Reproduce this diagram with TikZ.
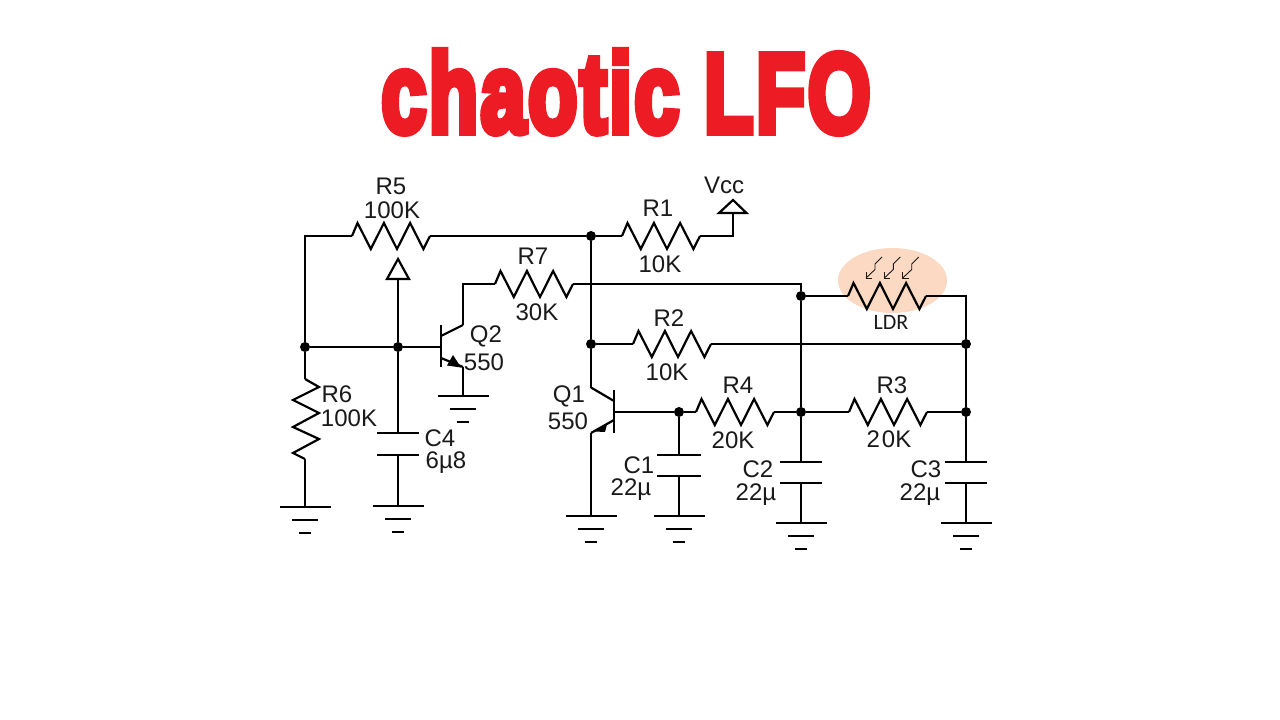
\documentclass[tikz,border=0pt]{standalone}
\usepackage{fontspec}
\setmainfont{Liberation Sans}
\newfontfamily\titlefont{Liberation Sans}[UprightFont=* Bold,FakeBold=7,LetterSpace=3.2]
\newfontfamily\ldrfont{Carlito}
\definecolor{titlered}{HTML}{ED1C24}
\definecolor{peach}{HTML}{FBD9C2}
\definecolor{ink}{HTML}{1A1A1A}
\tikzset{
  wire/.style={line width=2.2pt,line join=miter,line cap=butt,black},
  plate/.style={line width=2.2pt,black},
  junction/.style={circle,fill=black,inner sep=0pt,minimum size=10pt},
  lab/.style={font=\fontsize{24}{26}\selectfont,text=ink,inner sep=0pt},
  ldrlab/.style={font=\ldrfont\fontsize{22}{24}\selectfont,text=ink,inner sep=0pt},
  lightray/.style={line width=0.9pt,ink},
}
% horizontal resistor with named ends #1-a and #1-b
\newcommand{\hresistor}[3]{%
  \coordinate (#1-a) at (#2,#3);
  \coordinate (#1-b) at (#2+78,#3);
  \draw[wire] (#1-a) -- ++(5.5,-13) -- ++(13.3,26) -- ++(13.1,-26) -- ++(13.1,26) -- ++(13.1,-26) -- ++(13.3,26) -- (#1-b);
}
% ground symbol hanging from named coordinate
\newcommand{\gnd}[3]{%
  \coordinate (#1) at (#2,#3);
  \draw[plate] ([xshift=-25.5pt]#1) -- ([xshift=25.5pt]#1);
  \draw[plate] ([xshift=-13pt,yshift=-13pt]#1) -- ([xshift=13pt,yshift=-13pt]#1);
  \draw[plate] ([xshift=-6pt,yshift=-26pt]#1) -- ([xshift=6pt,yshift=-26pt]#1);
}
% capacitor plates
\newcommand{\capac}[5]{%
  \coordinate (#1-t) at (#2,#3);
  \coordinate (#1-u) at (#2,#4);
  \draw[plate] ([xshift=-#5pt]#1-t) -- ([xshift=#5pt]#1-t);
  \draw[plate] ([xshift=-#5pt]#1-u) -- ([xshift=#5pt]#1-u);
}
\begin{document}
\begin{tikzpicture}[x=1pt,y=-1pt]
\useasboundingbox (0,0) rectangle (1280,720);
\fill[white] (0,0) rectangle (1280,720);

\node[text=titlered,inner sep=0pt,xscale=0.72] (title) at (626,92) {\titlefont\fontsize{112}{116}\selectfont chaotic LFO};

% LDR highlight
\fill[peach] (892.5,280.5) ellipse [x radius=54.5,y radius=32.5];
\foreach \d in {0,18.3,36.7}{
  \draw[lightray] (882+\d,257) -- (875+\d,264) -- (875+\d,269.5) -- (866+\d,278);
  \draw[lightray] (866+\d,272) -- (866+\d,278) -- (872+\d,278);
}

% junctions
\node[junction] (jA) at (305,347) {};
\node[junction] (jB) at (398,347) {};
\node[junction] (jC) at (591,236) {};
\node[junction] (jD) at (591,344) {};
\node[junction] (jE) at (679,412) {};
\node[junction] (jF) at (801,412) {};
\node[junction] (jG) at (801,296) {};
\node[junction] (jH) at (966,344) {};
\node[junction] (jI) at (966,412) {};

% resistors
\hresistor{rfive}{352}{236}
\hresistor{rone}{622}{236}
\hresistor{rseven}{495}{284}
\hresistor{rtwo}{633}{344}
\hresistor{rldr}{848}{296}
\hresistor{rfour}{696}{412}
\hresistor{rthree}{849}{412}

% R6 vertical
\coordinate (rsix-a) at (305,379);
\coordinate (rsix-b) at (305,459);
\draw[wire] (rsix-a) -- (319,387) -- (293,400) -- (319,413) -- (293,427) -- (319,439) -- (293,453) -- (rsix-b);

% grounds
\gnd{gsix}{305}{507}
\gnd{gfour}{398}{506}
\gnd{gqtwo}{463}{396}
\gnd{gqone}{591}{516}
\gnd{gcone}{679}{516}
\gnd{gctwo}{801}{523}
\gnd{gcthree}{966}{523}

% capacitors
\capac{cfour}{398}{433}{455}{21}
\capac{cone}{679}{455}{476}{22}
\capac{ctwo}{801}{462}{483}{21}
\capac{cthree}{966}{462}{483}{21}

% Vcc and wiper triangles
\coordinate (vcc) at (733,213);
\draw[wire] (vcc) ++(-14,0) -- ++(14,-13) -- ++(13.5,13) -- cycle;
\coordinate (wip) at (398,279);
\draw[wire] (wip) ++(-11,0) -- ++(11,-20) -- ++(11,20) -- cycle;

% transistor Q2
\coordinate (qtwo-t) at (441,325);
\coordinate (qtwo-u) at (441,367);
\coordinate (qtwo-b) at (441,347);
\coordinate (qtwo-c) at (463,325);
\coordinate (qtwo-e) at (463,367);
\draw[wire] (qtwo-t) -- (qtwo-u);
\draw[wire] (441,336) -- (qtwo-c);
\draw[wire] (441,358) -- (qtwo-e);
\fill[black] (461,367.5) -- (447,365.5) -- (453,355) -- cycle;

% transistor Q1
\coordinate (qone-t) at (614,390);
\coordinate (qone-u) at (614,433);
\coordinate (qone-b) at (614,412);
\coordinate (qone-c) at (591,387.5);
\coordinate (qone-e) at (591,433);
\draw[wire] (qone-t) -- (qone-u);
\draw[wire] (qone-c) -- (614,401);
\draw[wire] (614,420) -- (qone-e);
\fill[black] (607.5,422.5) -- (605,432) -- (595,431.5) -- cycle;

% wires
\draw[wire] (rfive-a) -| (jA);
\draw[wire] (rfive-b) -- (jC);
\draw[wire] (jC) -- (rone-a);
\draw[wire] (rone-b) -| (vcc);
\draw[wire] (jA) -- (jB);
\draw[wire] (jB) -- (qtwo-b);
\draw[wire] (wip) -- (jB);
\draw[wire] (jB) -- (cfour-t);
\draw[wire] (cfour-u) -- (gfour);
\draw[wire] (jA) -- (rsix-a);
\draw[wire] (rsix-b) -- (gsix);
\draw[wire] (qtwo-c) |- (rseven-a);
\draw[wire] (qtwo-e) -- (gqtwo);
\draw[wire] (rseven-b) -| (jG);
\draw[wire] (jC) -- (jD);
\draw[wire] (jD) -- (qone-c);
\draw[wire] (jD) -- (rtwo-a);
\draw[wire] (rtwo-b) -- (jH);
\draw[wire] (jG) -- (rldr-a);
\draw[wire] (rldr-b) -| (jH);
\draw[wire] (jH) -- (jI);
\draw[wire] (jG) -- (jF);
\draw[wire] (qone-b) -- (jE);
\draw[wire] (jE) -- (rfour-a);
\draw[wire] (rfour-b) -- (jF);
\draw[wire] (jF) -- (rthree-a);
\draw[wire] (rthree-b) -- (jI);
\draw[wire] (qone-e) -- (gqone);
\draw[wire] (jE) -- (cone-t);
\draw[wire] (cone-u) -- (gcone);
\draw[wire] (jF) -- (ctwo-t);
\draw[wire] (ctwo-u) -- (gctwo);
\draw[wire] (jI) -- (cthree-t);
\draw[wire] (cthree-u) -- (gcthree);

% labels
\node[lab] (lR5) at (391,186) {R5};
\node[lab] (v5) at (392,210) {100K};
\node[lab] (lR7) at (533,256) {R7};
\node[lab] (v7) at (537,312) {30K};
\node[lab] (lQ2) at (486,336) {Q2};
\node[lab] (v2) at (484,362) {550};
\node[lab] (lR6) at (337,394) {R6};
\node[lab] (v6) at (349,418) {100K};
\node[lab] (lC4) at (440,438) {C4};
\node[lab] (vC4) at (446,462.5) {6µ8};
\node[lab] (lQ1) at (569,396) {Q1};
\node[lab] (v1) at (568,421) {550};
\node[lab] (lR1) at (658,208) {R1};
\node[lab] (vR1) at (660,264) {10K};
\node[lab] (lVcc) at (724,185) {Vcc};
\node[lab] (lR2) at (669,318) {R2};
\node[lab] (vR2) at (667,372) {10K};
\node[lab] (lR4) at (738,385) {R4};
\node[lab] (vR4) at (733,440) {20K};
\node[lab] (lC1) at (639,465) {C1};
\node[lab] (vC1) at (631,490) {22µ};
\node[lab] (lC2) at (758,469) {C2};
\node[lab] (vC2) at (756,494.5) {22µ};
\node[lab] (lR3) at (892,385) {R3};
\node[lab] (vR3) at (889,439) {2\hspace{2pt}0K};
\node[lab] (lC3) at (926,469) {C3};
\node[lab] (vC3) at (920,494.5) {22µ};
\node[ldrlab] (lLDR) at (891,322) {LDR};
\end{tikzpicture}
\end{document}
